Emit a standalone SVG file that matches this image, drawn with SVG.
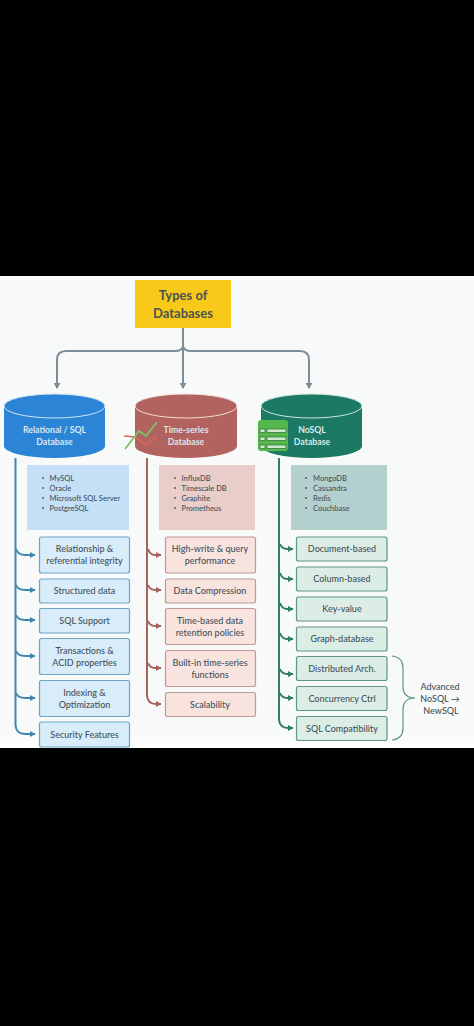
<svg xmlns="http://www.w3.org/2000/svg" width="474" height="1026" viewBox="0 0 474 1026">
<style>
text{font-family:"Lato","Open Sans","Liberation Sans",sans-serif;text-anchor:middle}
.t{font-size:9px;font-weight:500;fill:#44525c}
.b{fill:#d8ecf9;stroke:#6ba5c7;stroke-width:1.200}
.r{fill:#f8e3df;stroke:#c09a96;stroke-width:1.200}
.g{fill:#dcede6;stroke:#5f9584;stroke-width:1.200}
.li{font-size:7.500px;font-weight:500;fill:#44525c;text-anchor:start}
.cw{font-size:8.700px;font-weight:700;fill:#d8e8ee}
.l{fill:none;stroke-width:2}
</style>
<defs>
<linearGradient id="fade" x1="0" y1="0" x2="0" y2="1"><stop offset="0" stop-color="#f8f9f9"/><stop offset="0.965" stop-color="#f8f9f9"/><stop offset="1" stop-color="#ffffff"/></linearGradient>
<marker id="ag" markerUnits="userSpaceOnUse" markerWidth="7" markerHeight="7" refX="5" refY="3.500" orient="auto"><path d="M0 0L6 3.500L0 7z" fill="#7c8e99"/></marker>
<marker id="ab" markerUnits="userSpaceOnUse" markerWidth="6" markerHeight="6" refX="5" refY="3" orient="auto"><path d="M0 0L5.500 3L0 6z" fill="#3f87ad"/></marker>
<marker id="ar" markerUnits="userSpaceOnUse" markerWidth="6" markerHeight="6" refX="5" refY="3" orient="auto"><path d="M0 0L5.500 3L0 6z" fill="#a5625f"/></marker>
<marker id="an" markerUnits="userSpaceOnUse" markerWidth="6" markerHeight="6" refX="5" refY="3" orient="auto"><path d="M0 0L5.500 3L0 6z" fill="#2f7d6a"/></marker>
</defs>
<rect width="474" height="1026" fill="#000"/>
<rect x="0" y="276" width="474" height="472" fill="url(#fade)"/>
<g id="connectors">
<g fill="none" stroke="#7c8e99" stroke-width="2">
<path d="M183 328V388" marker-end="url(#ag)"/>
<path d="M183 346Q182 351 175 351H66Q57 351 57 360V388" marker-end="url(#ag)"/>
<path d="M183 346Q184 351 191 351H300Q309 351 309 360V388" marker-end="url(#ag)"/>
</g>
<g class="l" stroke="#3f87ad">
<path d="M15.500 458V725Q16 734 25 734H35" marker-end="url(#ab)"/>
<path d="M16 549Q18 555 25 555H35" marker-end="url(#ab)"/>
<path d="M16 585Q18 590 25 590H35" marker-end="url(#ab)"/>
<path d="M16 615Q18 620 25 620H35" marker-end="url(#ab)"/>
<path d="M16 651Q18 656 25 656H35" marker-end="url(#ab)"/>
<path d="M16 693Q18 698 25 698H35" marker-end="url(#ab)"/>
</g>
<g class="l" stroke="#a5625f">
<path d="M147 458V696Q148 704 156 704H161" marker-end="url(#ar)"/>
<path d="M148 549Q150 555 155 555H161" marker-end="url(#ar)"/>
<path d="M148 585Q150 590 155 590H161" marker-end="url(#ar)"/>
<path d="M148 621Q150 626 155 626H161" marker-end="url(#ar)"/>
<path d="M148 663Q150 668 155 668H161" marker-end="url(#ar)"/>
</g>
<g class="l" stroke="#2f7d6a">
<path d="M279 458V720Q280 728 288 728H293" marker-end="url(#an)"/>
<path d="M280 544Q282 549 287 549H293" marker-end="url(#an)"/>
<path d="M280 573Q282 579 287 579H293" marker-end="url(#an)"/>
<path d="M280 603Q282 609 287 609H293" marker-end="url(#an)"/>
<path d="M280 633Q282 639 287 639H293" marker-end="url(#an)"/>
<path d="M280 669Q282 674 287 674H293" marker-end="url(#an)"/>
<path d="M280 693Q282 698 287 698H293" marker-end="url(#an)"/>
</g>
<path d="M392 656Q403 657 403 668V686Q403 698 415 698Q403 698 403 710V728Q403 739 392 740" fill="none" stroke="#5f9584" stroke-width="1.200"/>
</g>
<g id="root"><rect x="135" y="280" width="96" height="48" fill="#f8c918"/>
<text x="183" y="300" font-size="13" font-weight="700" fill="#4a5256">Types of</text>
<text x="183" y="318" font-size="13" font-weight="700" fill="#4a5256">Databases</text></g>
<g id="relational">
<path d="M4 406V446A50.500 12 0 0 0 105 446V406Z" fill="#2b84d6"/>
<ellipse cx="54.500" cy="406" rx="50.500" ry="12" fill="#2b84d6" stroke="#cfe6f7" stroke-width="1"/>
<text class="cw" x="54.500" y="433">Relational / SQL</text><text class="cw" x="54.500" y="445">Database</text>
</g>
<g id="timeseries">
<path d="M135 406V446A51 12 0 0 0 237 446V406Z" fill="#b2635f"/>
<ellipse cx="186" cy="406" rx="51" ry="12" fill="#b2635f" stroke="#f4dcd8" stroke-width="1"/>
<text class="cw" x="186" y="433">Time-series</text><text class="cw" x="186" y="445">Database</text>
<polyline points="124,436 135,437 146,445 157,437" fill="none" stroke="#e0665a" stroke-width="1.500"/>
<polyline points="125,449 139,431 146,436 157,422" fill="none" stroke="#7cc068" stroke-width="1.800"/>
</g>
<g id="nosql">
<path d="M261 406V446A50.500 12 0 0 0 362 446V406Z" fill="#1c7a64"/>
<ellipse cx="311.500" cy="406" rx="50.500" ry="12" fill="#1c7a64" stroke="#cfe8df" stroke-width="1"/>
<text class="cw" x="312" y="433">NoSQL</text><text class="cw" x="312" y="445">Database</text>
<rect x="258" y="420" width="30" height="31" rx="3" fill="#55b84c"/>
<g fill="#cfeac8" stroke="#2f6b3a" stroke-width="0.700"><rect x="260" y="429" width="5" height="3.500"/><rect x="267" y="429" width="19" height="3.500"/><rect x="260" y="437" width="5" height="3.500"/><rect x="267" y="437" width="19" height="3.500"/><rect x="260" y="445" width="5" height="3.500"/><rect x="267" y="445" width="19" height="3.500"/></g>
</g>
<g id="info-relational"><rect x="27" y="465" width="102" height="65" fill="#c5dff6"/>
<circle cx="43" cy="478" r="0.900" fill="#44525c"/><circle cx="43" cy="488" r="0.900" fill="#44525c"/><circle cx="43" cy="498" r="0.900" fill="#44525c"/><circle cx="43" cy="508" r="0.900" fill="#44525c"/>
<text class="li" x="49.500" y="481">MySQL</text><text class="li" x="49.500" y="491">Oracle</text><text class="li" x="49.500" y="501">Microsoft SQL Server</text><text class="li" x="49.500" y="511">PostgreSQL</text></g>
<g id="info-timeseries"><rect x="159" y="465" width="96" height="65" fill="#e8cdc9"/>
<circle cx="175" cy="478" r="0.900" fill="#44525c"/><circle cx="175" cy="488" r="0.900" fill="#44525c"/><circle cx="175" cy="498" r="0.900" fill="#44525c"/><circle cx="175" cy="508" r="0.900" fill="#44525c"/>
<text class="li" x="181.500" y="481">InfluxDB</text><text class="li" x="181.500" y="491">Timescale DB</text><text class="li" x="181.500" y="501">Graphite</text><text class="li" x="181.500" y="511">Prometheus</text></g>
<g id="info-nosql"><rect x="291" y="465" width="96" height="65" fill="#b3d0cf"/>
<circle cx="306" cy="478" r="0.900" fill="#44525c"/><circle cx="306" cy="488" r="0.900" fill="#44525c"/><circle cx="306" cy="498" r="0.900" fill="#44525c"/><circle cx="306" cy="508" r="0.900" fill="#44525c"/>
<text class="li" x="313" y="481">MongoDB</text><text class="li" x="313" y="491">Cassandra</text><text class="li" x="313" y="501">Redis</text><text class="li" x="313" y="511">Couchbase</text></g>
<g id="b1"><rect class="b" x="39.500" y="537" width="90" height="36" rx="2"/><text class="t" x="84.500" y="552">Relationship &amp;</text><text class="t" x="84.500" y="564">referential integrity</text></g>
<g id="b2"><rect class="b" x="39.500" y="579" width="90" height="24" rx="2"/><text class="t" x="84.500" y="594">Structured data</text></g>
<g id="b3"><rect class="b" x="39.500" y="608.500" width="90" height="24.500" rx="2"/><text class="t" x="84.500" y="624">SQL Support</text></g>
<g id="b4"><rect class="b" x="39.500" y="638.500" width="90" height="36" rx="2"/><text class="t" x="84.500" y="654">Transactions &amp;</text><text class="t" x="84.500" y="666">ACID properties</text></g>
<g id="b5"><rect class="b" x="39.500" y="680.500" width="90" height="36" rx="2"/><text class="t" x="84.500" y="696">Indexing &amp;</text><text class="t" x="84.500" y="708">Optimization</text></g>
<g id="b6"><rect class="b" x="39.500" y="722" width="90" height="25" rx="2"/><text class="t" x="84.500" y="738">Security Features</text></g>
<g id="r1"><rect class="r" x="165.500" y="537" width="90" height="36" rx="2"/><text class="t" x="210" y="552">High-write &amp; query</text><text class="t" x="210" y="564">performance</text></g>
<g id="r2"><rect class="r" x="165.500" y="579" width="90" height="24" rx="2"/><text class="t" x="210" y="594">Data Compression</text></g>
<g id="r3"><rect class="r" x="165.500" y="608.500" width="90" height="36" rx="2"/><text class="t" x="210" y="624">Time-based data</text><text class="t" x="210" y="636">retention policies</text></g>
<g id="r4"><rect class="r" x="165.500" y="650.500" width="90" height="36" rx="2"/><text class="t" x="210" y="666">Built-in time-series</text><text class="t" x="210" y="678">functions</text></g>
<g id="r5"><rect class="r" x="165.500" y="692.500" width="90" height="24" rx="2"/><text class="t" x="210" y="708">Scalability</text></g>
<g id="n1"><rect class="g" x="296.500" y="537" width="90.500" height="24" rx="2"/><text class="t" x="342" y="552">Document-based</text></g>
<g id="n2"><rect class="g" x="296.500" y="567" width="90.500" height="24" rx="2"/><text class="t" x="342" y="582">Column-based</text></g>
<g id="n3"><rect class="g" x="296.500" y="597" width="90.500" height="24" rx="2"/><text class="t" x="342" y="612">Key-value</text></g>
<g id="n4"><rect class="g" x="296.500" y="627" width="90.500" height="24" rx="2"/><text class="t" x="342" y="642">Graph-database</text></g>
<g id="n5"><rect class="g" x="296.500" y="656.500" width="90.500" height="24" rx="2"/><text class="t" x="342" y="672">Distributed Arch.</text></g>
<g id="n6"><rect class="g" x="296.500" y="686.500" width="90.500" height="24" rx="2"/><text class="t" x="342" y="702">Concurrency Ctrl</text></g>
<g id="n7"><rect class="g" x="296.500" y="716.500" width="90.500" height="24" rx="2"/><text class="t" x="342" y="732">SQL Compatibility</text></g>
<g id="advanced"><text class="t" x="440" y="690">Advanced</text><text class="t" x="440" y="702">NoSQL →</text><text class="t" x="441" y="714">NewSQL</text></g>
</svg>
